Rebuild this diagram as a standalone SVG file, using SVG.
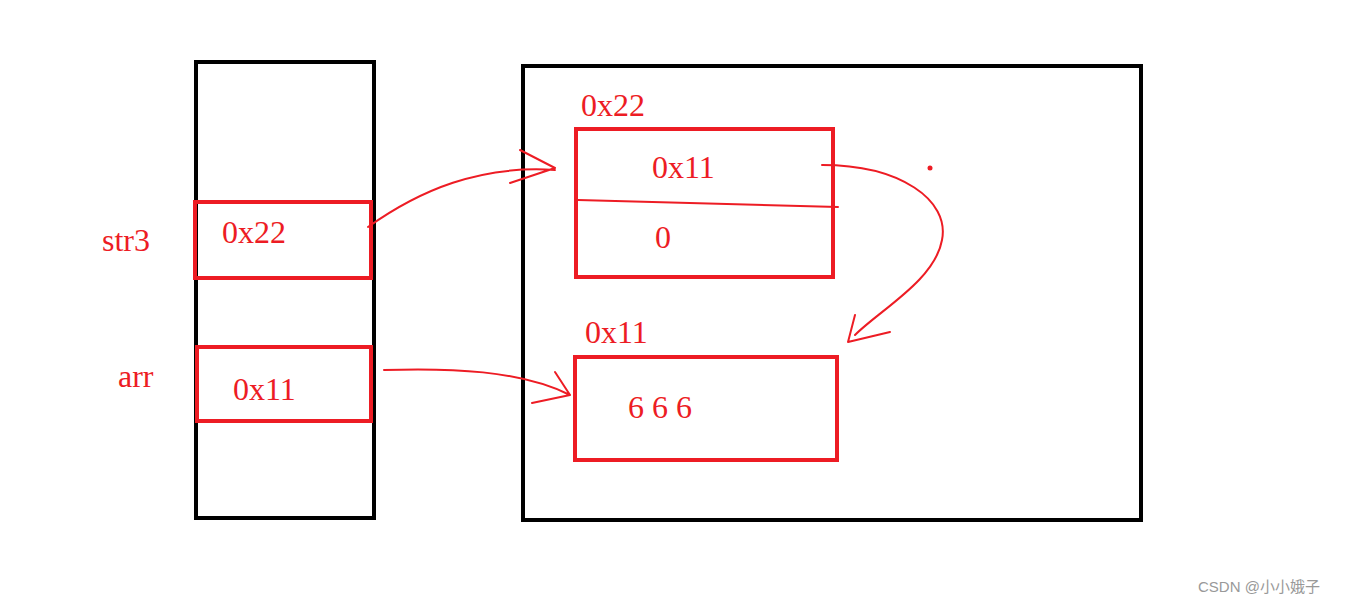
<svg xmlns="http://www.w3.org/2000/svg" width="1349" height="605" viewBox="0 0 1349 605">
<style>
.blk{fill:none;stroke:#000;stroke-width:4}
.red{fill:none;stroke:#ed1c24;stroke-width:4}
.ln{fill:none;stroke:#ed1c24;stroke-width:2;stroke-linecap:round;stroke-linejoin:round}
text{font-family:"Liberation Serif","DejaVu Serif",serif;fill:#ed1c24;font-size:32px}
</style>
<rect width="1349" height="605" fill="#fff"/>
<g id="stack"><rect class="blk" x="196" y="62" width="178" height="456"/></g>
<g id="heap"><rect class="blk" x="523" y="66" width="618" height="454"/></g>
<g id="str3"><rect class="red" x="195" y="202" width="176" height="76"/><text x="222" y="243">0x22</text><text x="102" y="251">str3</text></g>
<g id="arr"><rect class="red" x="197" y="347" width="174" height="74"/><text x="233" y="400">0x11</text><text x="118" y="387">arr</text></g>
<g id="obj"><rect class="red" x="576" y="129" width="257" height="148"/><path class="ln" d="M578 200 L838 207" stroke-width="3"/><text x="652" y="178">0x11</text><text x="655" y="248">0</text><text x="581" y="116">0x22</text></g>
<g id="array"><rect class="red" x="575" y="357" width="262" height="103"/><text x="628" y="418">6 6 6</text><text x="585" y="343">0x11</text></g>
<g id="connectors">
<path class="ln" d="M368 227 C420 190 480 165 555 170 M520 150 L555 168 L510 183"/>
<path class="ln" d="M822 165 C900 165 950 200 942 240 C935 280 880 310 855 335 M855 315 L848 342 L890 332"/>
<path class="ln" d="M384 370 C450 368 520 370 570 395 M555 372 L570 395 L532 403"/>
<circle cx="930" cy="168" r="2.5" fill="#ed1c24"/>
</g>
<text x="1198" y="592" style="font-family:'Liberation Sans','Noto Sans CJK SC',sans-serif;font-size:15px;fill:#999">CSDN @小小娥子</text>
</svg>
